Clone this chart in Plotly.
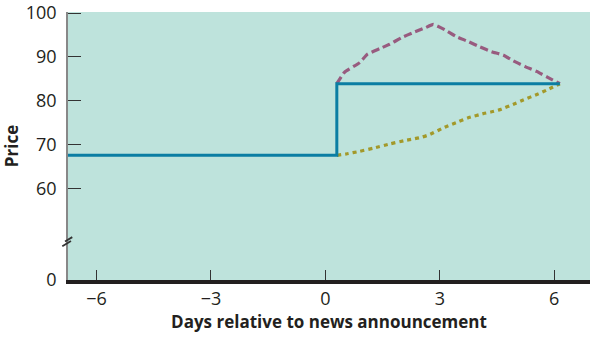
import plotly.graph_objects as go

# ---- data ----
x_ticks = [-6, -3, 0, 3, 6]
x_ticktext = ["\u22126", "\u22123", "0", "3", "6"]
y_ticks = [39.2, 60, 70, 80, 90, 100]
y_ticktext = ["0", "60", "70", "80", "90", "100"]

# efficient-market reaction (solid)
eff_days = [-6.75, 0.3, 0.3, 6.15]
eff_price = [67.6, 67.6, 83.9, 83.9]

# overreaction (dashed)
over_days = [0.3, 0.5, 0.9, 1.1, 1.43, 1.69, 2.0, 2.29, 2.61, 2.83, 3.13, 3.44,
             3.75, 4.05, 4.36, 4.67, 4.93, 5.24, 5.54, 5.82, 6.15]
over_price = [83.9, 86.5, 88.7, 90.6, 91.9, 92.9, 94.4, 95.5, 96.6, 97.4, 96.2, 94.6,
              93.5, 92.3, 91.2, 90.4, 89.1, 87.8, 86.7, 85.4, 83.9]

# delayed reaction (dotted)
delay_days = [0.3, 0.55, 0.9, 1.25, 1.7, 2.05, 2.3, 2.52, 2.73, 3.13, 3.5, 3.73,
              4.15, 4.36, 4.58, 4.98, 5.19, 5.59, 5.79, 6.15]
delay_price = [67.6, 67.9, 68.5, 69.2, 70.2, 70.9, 71.3, 71.7, 72.3, 74.0, 75.3, 76.1,
               77.1, 77.5, 78.0, 79.4, 80.2, 81.6, 82.4, 83.9]

BG = "#bee3dc"
TXT = "#231f20"
FONT = "Open Sans"

fig = go.Figure()
fig.add_trace(go.Scatter(x=over_days, y=over_price, mode="lines",
                         line=dict(color="#985b7f", width=3.2, dash="8px,4px", shape="spline", smoothing=0.4),
                         hoverinfo="skip"))
fig.add_trace(go.Scatter(x=delay_days, y=delay_price, mode="lines",
                         line=dict(color="#a3992a", width=3.2, dash="4px,4px", shape="spline", smoothing=0.4),
                         hoverinfo="skip"))
fig.add_trace(go.Scatter(x=eff_days, y=eff_price, mode="lines",
                         line=dict(color="#0b7ea3", width=3),
                         hoverinfo="skip"))

# axis break marks
for (x0, y0, x1, y1) in [(-0.0057, 0.144, 0.0082, 0.160), (-0.0109, 0.126, 0.0057, 0.1456)]:
    fig.add_shape(type="line", xref="paper", yref="paper", x0=x0, y0=y0, x1=x1, y1=y1,
                  line=dict(color="#333333", width=1.8))

fig.update_layout(
    width=590, height=348,
    margin=dict(l=68, r=0, t=9, b=68),
    paper_bgcolor="white", plot_bgcolor=BG,
    showlegend=False,
    font=dict(family=FONT, size=17, color=TXT),
)
fig.update_xaxes(
    range=[-6.75, 6.94], tickvals=x_ticks, ticktext=x_ticktext,
    showgrid=False, zeroline=False,
    showline=True, linecolor="#231f20", linewidth=3.5,
    ticks="inside", ticklen=10, tickcolor="#333333", tickwidth=1,
    tickfont=dict(family=FONT, size=18, color=TXT),
    ticklabeloverflow="allow",
    title=dict(text="Days relative to news announcement",
               font=dict(family=FONT, size=17, color=TXT, weight="bold"), standoff=6),
)
fig.update_yaxes(
    range=[39.2, 100.23], tickvals=y_ticks, ticktext=y_ticktext,
    showgrid=False, zeroline=False,
    showline=True, linecolor="#888888", linewidth=1.5,
    ticks="inside", ticklen=13, tickcolor="#333333", tickwidth=1,
    ticklabelstandoff=6, ticklabeloverflow="allow",
    tickfont=dict(family=FONT, size=18, color=TXT),
    title=dict(text="Price", font=dict(family=FONT, size=17, color=TXT, weight="bold"), standoff=13),
)

fig.write_html("out.html")
